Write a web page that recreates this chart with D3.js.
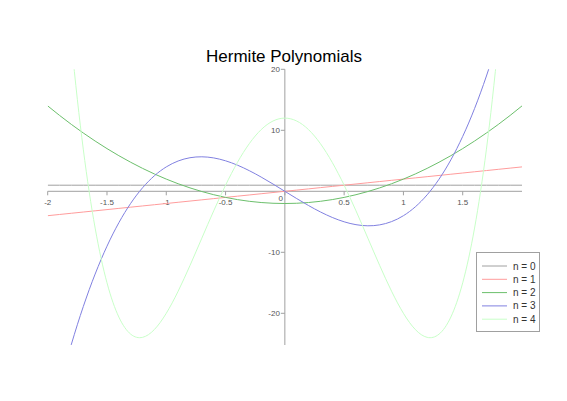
<!DOCTYPE html>
<html><head><meta charset="utf-8">
<script src="https://cdn.jsdelivr.net/npm/d3@7"></script>
<style>body{margin:0;background:#fff}text{font-family:Arial,"Liberation Sans",sans-serif}</style>
</head><body><svg id="c" width="567" height="401"></svg>
<script>
const xs = [-2,-1.9,-1.8,-1.7,-1.6,-1.5,-1.4,-1.3,-1.2,-1.1,-1,-0.9,-0.8,-0.7,-0.6,-0.5,-0.4,-0.3,-0.2,-0.1,0,0.1,0.2,0.3,0.4,0.5,0.6,0.7,0.8,0.9,1,1.1,1.2,1.3,1.4,1.5,1.6,1.7,1.8,1.9,2];
const h0 = [1,1,1,1,1,1,1,1,1,1,1,1,1,1,1,1,1,1,1,1,1,1,1,1,1,1,1,1,1,1,1,1,1,1,1,1,1,1,1,1,1];
const h1 = [-4,-3.8,-3.6,-3.4,-3.2,-3,-2.8,-2.6,-2.4,-2.2,-2,-1.8,-1.6,-1.4,-1.2,-1,-0.8,-0.6,-0.4,-0.2,0,0.2,0.4,0.6,0.8,1,1.2,1.4,1.6,1.8,2,2.2,2.4,2.6,2.8,3,3.2,3.4,3.6,3.8,4];
const h2 = [14,12.44,10.96,9.56,8.24,7,5.84,4.76,3.76,2.84,2,1.24,0.56,-0.04,-0.56,-1,-1.36,-1.64,-1.84,-1.96,-2,-1.96,-1.84,-1.64,-1.36,-1,-0.56,-0.04,0.56,1.24,2,2.84,3.76,4.76,5.84,7,8.24,9.56,10.96,12.44,14];
const h3 = [-40,-32.072,-25.056,-18.904,-13.568,-9,-5.152,-1.976,0.576,2.552,4,4.968,5.504,5.656,5.472,5,4.288,3.384,2.336,1.192,0,-1.192,-2.336,-3.384,-4.288,-5,-5.472,-5.656,-5.504,-4.968,-4,-2.552,-0.576,1.976,5.152,9,13.568,18.904,25.056,32.072,40];
const h4 = [76,47.2336,24.4416,6.9136,-6.0224,-15,-20.6144,-23.4224,-23.9424,-22.6544,-20,-16.3824,-12.1664,-7.6784,-3.2064,1,4.7296,7.8096,10.1056,11.5216,12,11.5216,10.1056,7.8096,4.7296,1,-3.2064,-7.6784,-12.1664,-16.3824,-20,-22.6544,-23.9424,-23.4224,-20.6144,-15,-6.0224,6.9136,24.4416,47.2336,76];
const seriesNames = ["n = 0","n = 1","n = 2","n = 3","n = 4"];
const seriesData = [h0,h1,h2,h3,h4];
const colors = ["#a0a0a0","#ff9c9c","#6cbf6c","#8080e0","#c8ffc8"];
const xTicks = [-2,-1.5,-1,-0.5,0.5,1,1.5];
const yTicks = [-20,-10,10,20];

const svg = d3.select("#c");
const x = d3.scaleLinear().domain([-2,2]).range([47.7,522]);
const y = d3.scaleLinear().domain([20,0]).range([69.3,191.3]);
const yBottom = 345;

svg.append("text").attr("x",284).attr("y",62).attr("text-anchor","middle").attr("font-size",17).text("Hermite Polynomials");

svg.append("defs").append("clipPath").attr("id","clip").append("rect")
  .attr("x",x(-2)).attr("y",y(20)).attr("width",x(2)-x(-2)).attr("height",yBottom-y(20));

const ax = "#a0a0a0";
svg.append("line").attr("x1",x(-2)).attr("x2",x(2)).attr("y1",y(0)).attr("y2",y(0)).attr("stroke",ax);
xTicks.concat([0]).forEach(t=>{
  svg.append("line").attr("x1",x(t)).attr("x2",x(t)).attr("y1",y(0)).attr("y2",y(0)+4).attr("stroke",ax);
});
xTicks.forEach(t=>{
  svg.append("text").attr("x",x(t)).attr("y",y(0)+14).attr("text-anchor","middle").attr("font-size",8).attr("fill","#555").text(t);
});
svg.append("text").attr("x",x(0)-4).attr("y",y(0)+10).attr("text-anchor","middle").attr("font-size",8).attr("fill","#555").text("0");
svg.append("line").attr("x1",x(0)).attr("x2",x(0)).attr("y1",y(20)).attr("y2",yBottom).attr("stroke",ax);
yTicks.forEach(t=>{
  svg.append("line").attr("x1",x(0)-4).attr("x2",x(0)).attr("y1",y(t)).attr("y2",y(t)).attr("stroke",ax);
  svg.append("text").attr("x",x(0)-5).attr("y",y(t)+3).attr("text-anchor","end").attr("font-size",8).attr("fill","#555").text(t);
});

const line = d3.line().x((d,i)=>x(xs[i])).y(d=>y(d)).curve(d3.curveNatural);
const g = svg.append("g").attr("clip-path","url(#clip)");
seriesData.forEach((s,i)=>{
  g.append("path").attr("d",line(s)).attr("fill","none").attr("stroke",colors[i]).attr("stroke-width",1);
});

svg.append("rect").attr("x",476.5).attr("y",252.5).attr("width",63).attr("height",79).attr("fill","#fff").attr("stroke","#a0a0a0");
seriesNames.forEach((n,i)=>{
  const yy = 266+i*13.3;
  svg.append("line").attr("x1",482).attr("x2",507).attr("y1",yy).attr("y2",yy).attr("stroke",colors[i]);
  svg.append("text").attr("x",513).attr("y",yy+3.5).attr("font-size",10).attr("fill","#333").text(n);
});
</script></body></html>
